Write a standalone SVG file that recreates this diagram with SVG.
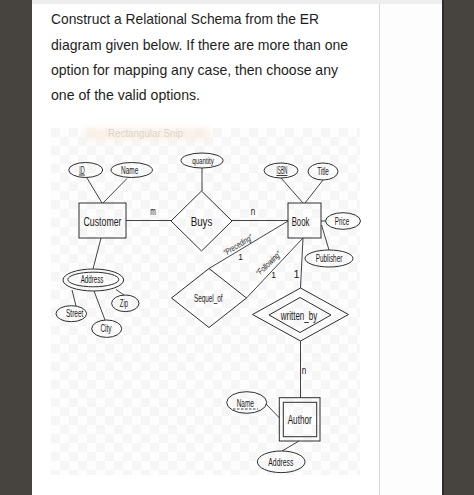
<svg xmlns="http://www.w3.org/2000/svg" width="474" height="495" viewBox="0 0 474 495">
<defs>
<pattern id="chk" x="51" y="128" width="18" height="18" patternUnits="userSpaceOnUse">
<rect width="18" height="18" fill="#fdfdfd"/>
<rect width="9" height="9" fill="#f6f6f6"/>
<rect x="9" y="9" width="9" height="9" fill="#f6f6f6"/>
</pattern>
<filter id="blur" x="-20%" y="-50%" width="140%" height="200%"><feGaussianBlur stdDeviation="3"/></filter>
</defs>
<style>
.q{font-family:"Liberation Sans",Arial,sans-serif;font-size:14.5px;fill:#1e1e1e}
.t{font-family:"Liberation Sans",Arial,sans-serif;fill:#1a1a1a;text-anchor:middle}
.b{font-size:12.5px}
.s{font-size:10px}
.shape{fill:none;stroke:#2e2e2e;stroke-width:1}
.ln{stroke:#2e2e2e;stroke-width:0.9;fill:none}
</style>
<!-- page -->
<rect width="474" height="495" fill="#47433e"/>
<rect x="442" y="0" width="2" height="495" fill="#2f2c29"/>
<rect x="32" y="0" width="410" height="495" fill="#ffffff"/>
<rect x="380" y="0" width="62" height="495" fill="#fdfdfd"/>
<rect x="379" y="0" width="1" height="495" fill="#d6d6d6"/>
<rect x="32" y="0" width="410" height="4" fill="#eeeeee"/>
<!-- question -->
<text class="q" x="51" y="24.3" textLength="268" lengthAdjust="spacingAndGlyphs">Construct a Relational Schema from the ER</text>
<text class="q" x="51" y="49.5" textLength="297" lengthAdjust="spacingAndGlyphs">diagram given below. If there are more than one</text>
<text class="q" x="51" y="74.5" textLength="287" lengthAdjust="spacingAndGlyphs">option for mapping any case, then choose any</text>
<text class="q" x="51" y="99.5" textLength="149" lengthAdjust="spacingAndGlyphs">one of the valid options.</text>
<!-- image area -->
<rect x="51" y="128" width="309" height="347" fill="url(#chk)"/>
<rect x="85" y="128" width="125" height="12" fill="#fbeddf" filter="url(#blur)" opacity="0.7"/>
<text x="108" y="137" font-family="Liberation Sans,Arial,sans-serif" font-size="10" fill="#ddd4cb" textLength="75" lengthAdjust="spacingAndGlyphs">Rectangular Snip</text>
<!-- connectors -->
<g id="connectors" class="ln">
<line x1="87" y1="178" x2="102" y2="203"/>
<line x1="127" y1="178.5" x2="103" y2="203"/>
<line x1="126" y1="220.5" x2="171" y2="220.5"/>
<line x1="202" y1="168" x2="202" y2="191"/>
<line x1="232" y1="220.5" x2="288" y2="220.5"/>
<line x1="281" y1="178" x2="303" y2="203"/>
<line x1="323" y1="180" x2="305" y2="203"/>
<line x1="321" y1="221" x2="325.5" y2="221"/>
<line x1="321.5" y1="225" x2="329" y2="250"/>
<line x1="288" y1="221" x2="209" y2="268.5"/>
<line x1="303" y1="238" x2="246.5" y2="298"/>
<line x1="303" y1="238" x2="300.5" y2="288"/>
<line x1="300.5" y1="341" x2="300.5" y2="398"/>
<line x1="266" y1="404" x2="279.5" y2="418"/>
<line x1="299" y1="441" x2="282" y2="451"/>
<line x1="101" y1="238" x2="93" y2="269"/>
<line x1="116" y1="289.5" x2="124" y2="295"/>
<line x1="72" y1="290" x2="76" y2="306"/>
<line x1="94" y1="291" x2="105" y2="320"/>
</g>
<g id="cardinalities" font-family="Liberation Sans,Arial,sans-serif" fill="#1a1a1a" text-anchor="middle">
<text x="153" y="214.5" font-size="10" textLength="5.5" lengthAdjust="spacingAndGlyphs">m</text>
<text x="253" y="215" font-size="10" textLength="4.5" lengthAdjust="spacingAndGlyphs">n</text>
<text x="296.5" y="277.5" font-size="11">1</text>
<text x="304" y="373.5" font-size="10" textLength="4.5" lengthAdjust="spacingAndGlyphs">n</text>
<text x="240.5" y="260" font-size="8.5">1</text>
<text x="273.5" y="277.5" font-size="8.5">1</text>
<text transform="translate(239.5,247.5) rotate(-31)" font-size="8.5" font-style="italic" textLength="32" lengthAdjust="spacingAndGlyphs">“Preceding”</text>
<text transform="translate(270.5,265.5) rotate(-44)" font-size="8.5" font-style="italic" textLength="31" lengthAdjust="spacingAndGlyphs">“Following”</text>
</g>
<!-- nodes -->
<g id="customer">
<rect class="shape" x="79" y="203" width="47" height="35"/>
<text class="t b" x="102.5" y="225.5" textLength="38" lengthAdjust="spacingAndGlyphs">Customer</text>
</g>
<g id="cust-id">
<ellipse class="shape" cx="85.7" cy="170" rx="17" ry="7.5"/>
<text class="t s" x="82" y="173.5" textLength="5.5" lengthAdjust="spacingAndGlyphs">ID</text>
<line class="ln" x1="79" y1="175" x2="85" y2="175"/>
</g>
<g id="cust-name">
<ellipse class="shape" cx="131.7" cy="170" rx="20.7" ry="7.5"/>
<text class="t s" x="129.7" y="173.5" textLength="17.3" lengthAdjust="spacingAndGlyphs">Name</text>
</g>
<g id="cust-address">
<ellipse class="shape" cx="93.3" cy="280" rx="30.3" ry="11"/>
<ellipse class="shape" cx="93.3" cy="279.5" rx="25.5" ry="7.3"/>
<text class="t s" x="92" y="283" textLength="22.7" lengthAdjust="spacingAndGlyphs">Address</text>
</g>
<g id="zip">
<ellipse class="shape" cx="125.3" cy="303.3" rx="13.7" ry="8.3"/>
<text class="t s" x="124" y="306.8" textLength="8.3" lengthAdjust="spacingAndGlyphs">Zip</text>
</g>
<g id="street">
<ellipse class="shape" cx="71.3" cy="313.7" rx="15.3" ry="8"/>
<text class="t s" x="74.7" y="317.2" textLength="17.3" lengthAdjust="spacingAndGlyphs">Street</text>
</g>
<g id="city">
<ellipse class="shape" cx="106.7" cy="328.7" rx="15" ry="8.7"/>
<text class="t s" x="106" y="332.2" textLength="11" lengthAdjust="spacingAndGlyphs">City</text>
</g>
<g id="buys">
<polygon class="shape" points="171,221 201.5,191 232,221 201.5,251"/>
<text class="t b" x="201.5" y="225.5" textLength="21.7" lengthAdjust="spacingAndGlyphs">Buys</text>
</g>
<g id="quantity">
<ellipse class="shape" cx="202" cy="160.5" rx="21" ry="7.5"/>
<text class="t" font-size="9.5" x="203" y="163.8" textLength="21.7" lengthAdjust="spacingAndGlyphs">quantity</text>
</g>
<g id="book">
<rect class="shape" x="288" y="203" width="33" height="35"/>
<text class="t b" x="300.5" y="225.5" textLength="17.7" lengthAdjust="spacingAndGlyphs">Book</text>
</g>
<g id="isbn">
<ellipse class="shape" cx="281" cy="170.5" rx="17" ry="7.5"/>
<text class="t s" x="282" y="174" textLength="11" lengthAdjust="spacingAndGlyphs">ISBN</text>
<line class="ln" x1="276.5" y1="175.5" x2="287.5" y2="175.5"/>
</g>
<g id="title">
<ellipse class="shape" cx="323" cy="171.5" rx="15" ry="8.5"/>
<text class="t s" x="323" y="175" textLength="11.7" lengthAdjust="spacingAndGlyphs">Title</text>
</g>
<g id="price">
<ellipse class="shape" cx="343" cy="221" rx="17.5" ry="8.3"/>
<text class="t s" x="342" y="224.5" textLength="14.3" lengthAdjust="spacingAndGlyphs">Price</text>
</g>
<g id="publisher">
<ellipse class="shape" cx="329" cy="258.5" rx="24" ry="8.5"/>
<text class="t s" x="329" y="262" textLength="26.7" lengthAdjust="spacingAndGlyphs">Publisher</text>
</g>
<g id="sequel_of">
<polygon class="shape" points="171.5,298 209,268.5 246.5,298 209,327.5"/>
<text class="t" font-size="10.5" x="208.3" y="301.8" textLength="28.7" lengthAdjust="spacingAndGlyphs">Sequel_of</text>
</g>
<g id="written_by">
<polygon class="shape" points="252.5,314.5 300.5,288 348.5,314.5 300.5,341"/>
<polygon class="shape" points="269,315 300,297.5 331,315 300,332.5"/>
<text class="t b" x="299" y="319.5" textLength="36.3" lengthAdjust="spacingAndGlyphs">written_by</text>
</g>
<g id="author">
<rect class="shape" x="279.3" y="397.7" width="40.7" height="43.3"/>
<rect class="shape" x="283.3" y="402.3" width="33.4" height="34.4"/>
<text class="t b" x="299.7" y="424.3" textLength="24" lengthAdjust="spacingAndGlyphs">Author</text>
</g>
<g id="author-name">
<ellipse class="shape" cx="246.7" cy="402.5" rx="20" ry="10.8"/>
<text class="t" font-size="11" x="245.3" y="406.8" textLength="17.3" lengthAdjust="spacingAndGlyphs">Name</text>
<line class="ln" x1="233" y1="409" x2="258" y2="409" stroke-dasharray="2.5,1.5" stroke-width="1.2"/>
</g>
<g id="author-address">
<ellipse class="shape" cx="281.2" cy="461.8" rx="23.8" ry="10.8"/>
<text class="t" font-size="11" x="280.8" y="465.8" textLength="25" lengthAdjust="spacingAndGlyphs">Address</text>
</g>
</svg>
